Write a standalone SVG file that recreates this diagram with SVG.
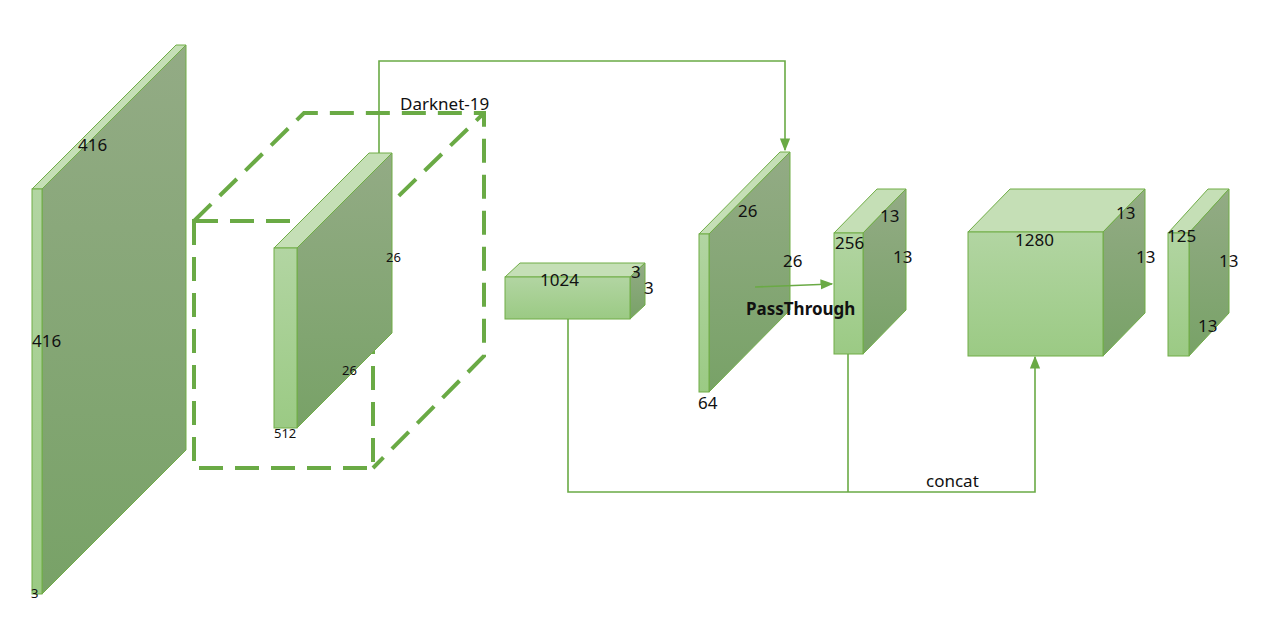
<svg xmlns="http://www.w3.org/2000/svg" width="1273" height="635" viewBox="0 0 1273 635">
<defs>
<linearGradient id="gf" x1="0" y1="0" x2="0" y2="1"><stop offset="0" stop-color="#b2d5a2"/><stop offset="1" stop-color="#9bca84"/></linearGradient>
<linearGradient id="gs" x1="0" y1="0" x2="0" y2="1"><stop offset="0" stop-color="#93ab85"/><stop offset="1" stop-color="#78a267"/></linearGradient>
<marker id="ar" viewBox="0 0 10 10" refX="9" refY="5" markerWidth="8" markerHeight="8" orient="auto"><path d="M0,1 L10,5 L0,9 z" fill="#6aaa45"/></marker>
</defs>
<style>
.f{fill:url(#gf);stroke:#70ad47;stroke-width:1}
.s{fill:url(#gs);stroke:#70ad47;stroke-width:1}
.t{fill:#c5dfb6;stroke:#70ad47;stroke-width:1}
.c{fill:none;stroke:#6aaa45;stroke-width:2}
.d{fill:none;stroke:#6aaa45;stroke-width:4;stroke-dasharray:24 12}
text{font-family:"Noto Sans","Liberation Sans",sans-serif;font-size:17px;fill:#111}
.sm{font-size:13px}
</style>
<rect width="1273" height="635" fill="#fff"/>
<g id="box1">
<polygon class="t" points="32,189 42,189 186,45 176,45"/>
<polygon class="s" points="42,189 186,45 186,450 42,594"/>
<rect class="f" x="32" y="189" width="10" height="405"/>
<text x="78" y="151">416</text><text x="32" y="347">416</text><text class="sm" x="31" y="598">3</text>
</g>
<g id="darknet">
<path class="d" d="M194,221 H373 V468 H194 Z M194,221 L304,113 H484 V356 L373,468 M373,221 L484,113"/>
<text x="400" y="110">Darknet-19</text>
</g>
<g id="box2">
<polygon class="t" points="274,248 297,248 392,153 369,153"/>
<polygon class="s" points="297,248 392,153 392,333 297,428"/>
<rect class="f" x="274" y="248" width="23" height="180"/>
<text class="sm" x="386" y="262">26</text><text class="sm" x="342" y="375">26</text><text class="sm" x="274" y="438">512</text>
</g>
<g id="box3">
<polygon class="t" points="505,277 630,277 645,263 520,263"/>
<polygon class="s" points="630,277 645,263 645,305 630,319"/>
<rect class="f" x="505" y="277" width="125" height="42"/>
<text x="540" y="286">1024</text><text x="631" y="278">3</text><text x="644" y="294">3</text>
</g>
<g id="box4">
<polygon class="t" points="699,234 709,234 790,152 780,152"/>
<polygon class="s" points="709,234 790,152 790,310 709,392"/>
<rect class="f" x="699" y="234" width="10" height="158"/>
<text x="738" y="217">26</text><text x="783" y="267">26</text><text x="698" y="409">64</text>
</g>
<g id="box5">
<polygon class="t" points="834,233 863,233 906,189 877,189"/>
<polygon class="s" points="863,233 906,189 906,310 863,354"/>
<rect class="f" x="834" y="233" width="29" height="121"/>
<text x="880" y="222">13</text><text x="835" y="249">256</text><text x="893" y="263">13</text>
</g>
<g id="box6">
<polygon class="t" points="968,232 1103,232 1145,189 1010,189"/>
<polygon class="s" points="1103,232 1145,189 1145,313 1103,356"/>
<rect class="f" x="968" y="232" width="135" height="124"/>
<text x="1116" y="219">13</text><text x="1015" y="246">1280</text><text x="1136" y="263">13</text>
</g>
<g id="box7">
<polygon class="t" points="1168,233 1189,233 1229,189 1208,189"/>
<polygon class="s" points="1189,233 1229,189 1229,313 1189,356"/>
<rect class="f" x="1168" y="233" width="21" height="123"/>
<text x="1167" y="242">125</text><text x="1219" y="267">13</text><text x="1198" y="332">13</text>
</g>
<g id="connectors">
<path class="c" d="M379,153 V61 H785 V150" marker-end="url(#ar)" style="stroke-width:1.6"/>
<path class="c" d="M568,319 V492 H1035 V357" marker-end="url(#ar)" style="stroke-width:1.6"/>
<path class="c" d="M848,354 V492" style="stroke-width:1.6"/>
<path class="c" d="M755,287 L832,284" marker-end="url(#ar)" style="stroke-width:1.6"/>
<text x="746" y="315" style="font-weight:bold">PassThrough</text>
<text x="926" y="487">concat</text>
</g>
</svg>
